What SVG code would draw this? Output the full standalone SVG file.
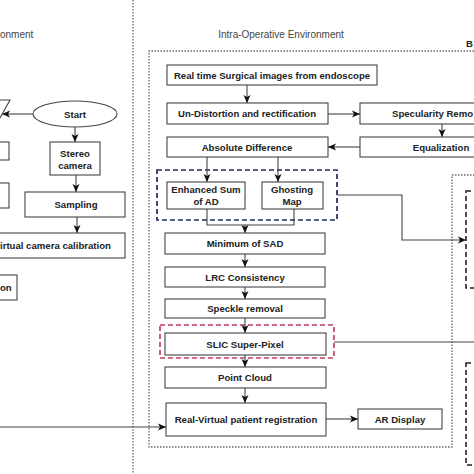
<svg xmlns="http://www.w3.org/2000/svg" width="474" height="474" viewBox="0 0 474 474">
<defs>
<marker id="ah" markerUnits="userSpaceOnUse" markerWidth="8" markerHeight="8" viewBox="0 0 8 8" refX="8" refY="4" orient="auto">
<path d="M0,0.5 L8,4 L0,7.5 L2,4 Z" fill="#111"/>
</marker>
<style>
.bx{fill:#fff;stroke:#444;stroke-width:1.1}
.t{font-family:"Liberation Sans",Arial,sans-serif;font-size:9.6px;font-weight:bold;fill:#222;text-anchor:middle}
.env{font-family:"Liberation Sans",Arial,sans-serif;font-size:10px;fill:#444;text-anchor:middle}
.ln{fill:none;stroke:#444;stroke-width:1.1}
.ar{fill:none;stroke:#444;stroke-width:1.1;marker-end:url(#ah)}
.dot{fill:none;stroke:#666;stroke-width:1.3;stroke-dasharray:1.5 1.5}
</style>
</defs>
<rect width="474" height="474" fill="#fff"/>

<g id="environments">
<text class="env" x="0" y="38" style="text-anchor:start">onment</text>
<text class="env" x="281" y="38">Intra-Operative Environment</text>
<text class="t" x="466" y="47" style="text-anchor:start">B</text>
<line class="dot" x1="133" y1="0" x2="133" y2="474"/>
<polyline class="dot" points="474,51 149,51 149,447 452,447 452,175 474,175"/>
</g>

<g id="groups">
<rect x="157" y="170" width="180" height="50" fill="none" stroke="#1f2a5a" stroke-width="1.7" stroke-dasharray="5 3"/>
<rect x="160" y="325" width="174" height="33" fill="none" stroke="#c0405e" stroke-width="1.7" stroke-dasharray="5 3"/>
<rect x="466" y="191" width="60" height="97" fill="none" stroke="#222" stroke-width="1.6" stroke-dasharray="5 3"/>
<rect x="466" y="363" width="60" height="102" fill="none" stroke="#222" stroke-width="1.6" stroke-dasharray="5 3"/>
</g>

<g id="connectors">
<line class="ar" x1="33" y1="114" x2="2" y2="114"/>
<line class="ar" x1="75" y1="127" x2="75" y2="142"/>
<line class="ar" x1="76" y1="175" x2="76" y2="192"/>
<line class="ar" x1="77" y1="217" x2="77" y2="233"/>
<line class="ar" x1="247" y1="85" x2="247" y2="103"/>
<line class="ar" x1="328" y1="114" x2="360" y2="114"/>
<line class="ar" x1="442" y1="124" x2="442" y2="137"/>
<line class="ar" x1="360" y1="147" x2="328" y2="147"/>
<line class="ar" x1="207" y1="157" x2="207" y2="182"/>
<line class="ar" x1="278" y1="157" x2="278" y2="182"/>
<polyline class="ln" points="207,209 207,225 294,225 294,209"/>
<line class="ar" x1="245" y1="225" x2="245" y2="233"/>
<line class="ar" x1="245" y1="254" x2="245" y2="267"/>
<line class="ar" x1="245" y1="287" x2="245" y2="299"/>
<line class="ar" x1="245" y1="318" x2="245" y2="333"/>
<line class="ar" x1="245" y1="355" x2="245" y2="367"/>
<line class="ar" x1="245" y1="388" x2="245" y2="403"/>
<line class="ar" x1="326" y1="419" x2="358" y2="419"/>
<line class="ar" x1="0" y1="427" x2="166" y2="427"/>
<polyline class="ar" points="337,195 402,195 402,240 466,240"/>
<line class="ln" x1="334" y1="342" x2="474" y2="342"/>
</g>

<g id="pre-op-left">
<polygon points="-20,100 10,100 0,118 -30,118" class="bx"/>
<rect class="bx" x="-40" y="142" width="49" height="18"/>
<rect class="bx" x="-40" y="183" width="49" height="25"/>
</g>
<g id="start"><ellipse class="bx" cx="75" cy="114" rx="42" ry="13"/><text class="t" x="75" y="117.5">Start</text></g>
<g id="stereo"><rect class="bx" x="50" y="142" width="50" height="33"/><text class="t" x="75" y="157">Stereo</text><text class="t" x="75" y="169">camera</text></g>
<g id="sampling"><rect class="bx" x="25" y="192" width="100" height="25"/><text class="t" x="76" y="208">Sampling</text></g>
<g id="calibration"><rect class="bx" x="-30" y="233" width="155" height="25"/><text class="t" x="0" y="249" style="text-anchor:start">irtual camera calibration</text></g>
<g id="on-box"><rect class="bx" x="-40" y="275" width="57" height="25"/><text class="t" x="0" y="291" style="text-anchor:start">on</text></g>

<g id="realtime"><rect class="bx" x="167" y="65" width="210" height="20"/><text class="t" x="272" y="78.5">Real time Surgical images from endoscope</text></g>
<g id="undistortion"><rect class="bx" x="167" y="103" width="161" height="21"/><text class="t" x="247" y="117">Un-Distortion and rectification</text></g>
<g id="specularity"><rect class="bx" x="360" y="103" width="170" height="21"/><text class="t" x="392" y="117" style="text-anchor:start">Specularity Remo</text></g>
<g id="equalization"><rect class="bx" x="360" y="137" width="170" height="20"/><text class="t" x="441" y="150.5">Equalization</text></g>
<g id="absdiff"><rect class="bx" x="167" y="137" width="161" height="20"/><text class="t" x="247" y="150.5">Absolute Difference</text></g>
<g id="esad"><rect class="bx" x="167" y="182" width="78" height="27"/><text class="t" x="206" y="193">Enhanced Sum</text><text class="t" x="206" y="205">of AD</text></g>
<g id="ghosting"><rect class="bx" x="262" y="182" width="61" height="27"/><text class="t" x="292" y="193">Ghosting</text><text class="t" x="292" y="205">Map</text></g>
<g id="minsad"><rect class="bx" x="165" y="233" width="160" height="21"/><text class="t" x="245" y="247">Minimum of SAD</text></g>
<g id="lrc"><rect class="bx" x="165" y="267" width="160" height="20"/><text class="t" x="245" y="280.5">LRC Consistency</text></g>
<g id="speckle"><rect class="bx" x="165" y="299" width="160" height="19"/><text class="t" x="245" y="312">Speckle removal</text></g>
<g id="slic"><rect class="bx" x="165" y="333" width="161" height="22"/><text class="t" x="245" y="347.5">SLIC Super-Pixel</text></g>
<g id="pointcloud"><rect class="bx" x="165" y="367" width="161" height="21"/><text class="t" x="245" y="381">Point Cloud</text></g>
<g id="registration"><rect class="bx" x="166" y="403" width="160" height="33"/><text class="t" x="246" y="423">Real-Virtual patient registration</text></g>
<g id="ardisplay"><rect class="bx" x="358" y="409" width="84" height="20"/><text class="t" x="400" y="422.5">AR Display</text></g>
</svg>
